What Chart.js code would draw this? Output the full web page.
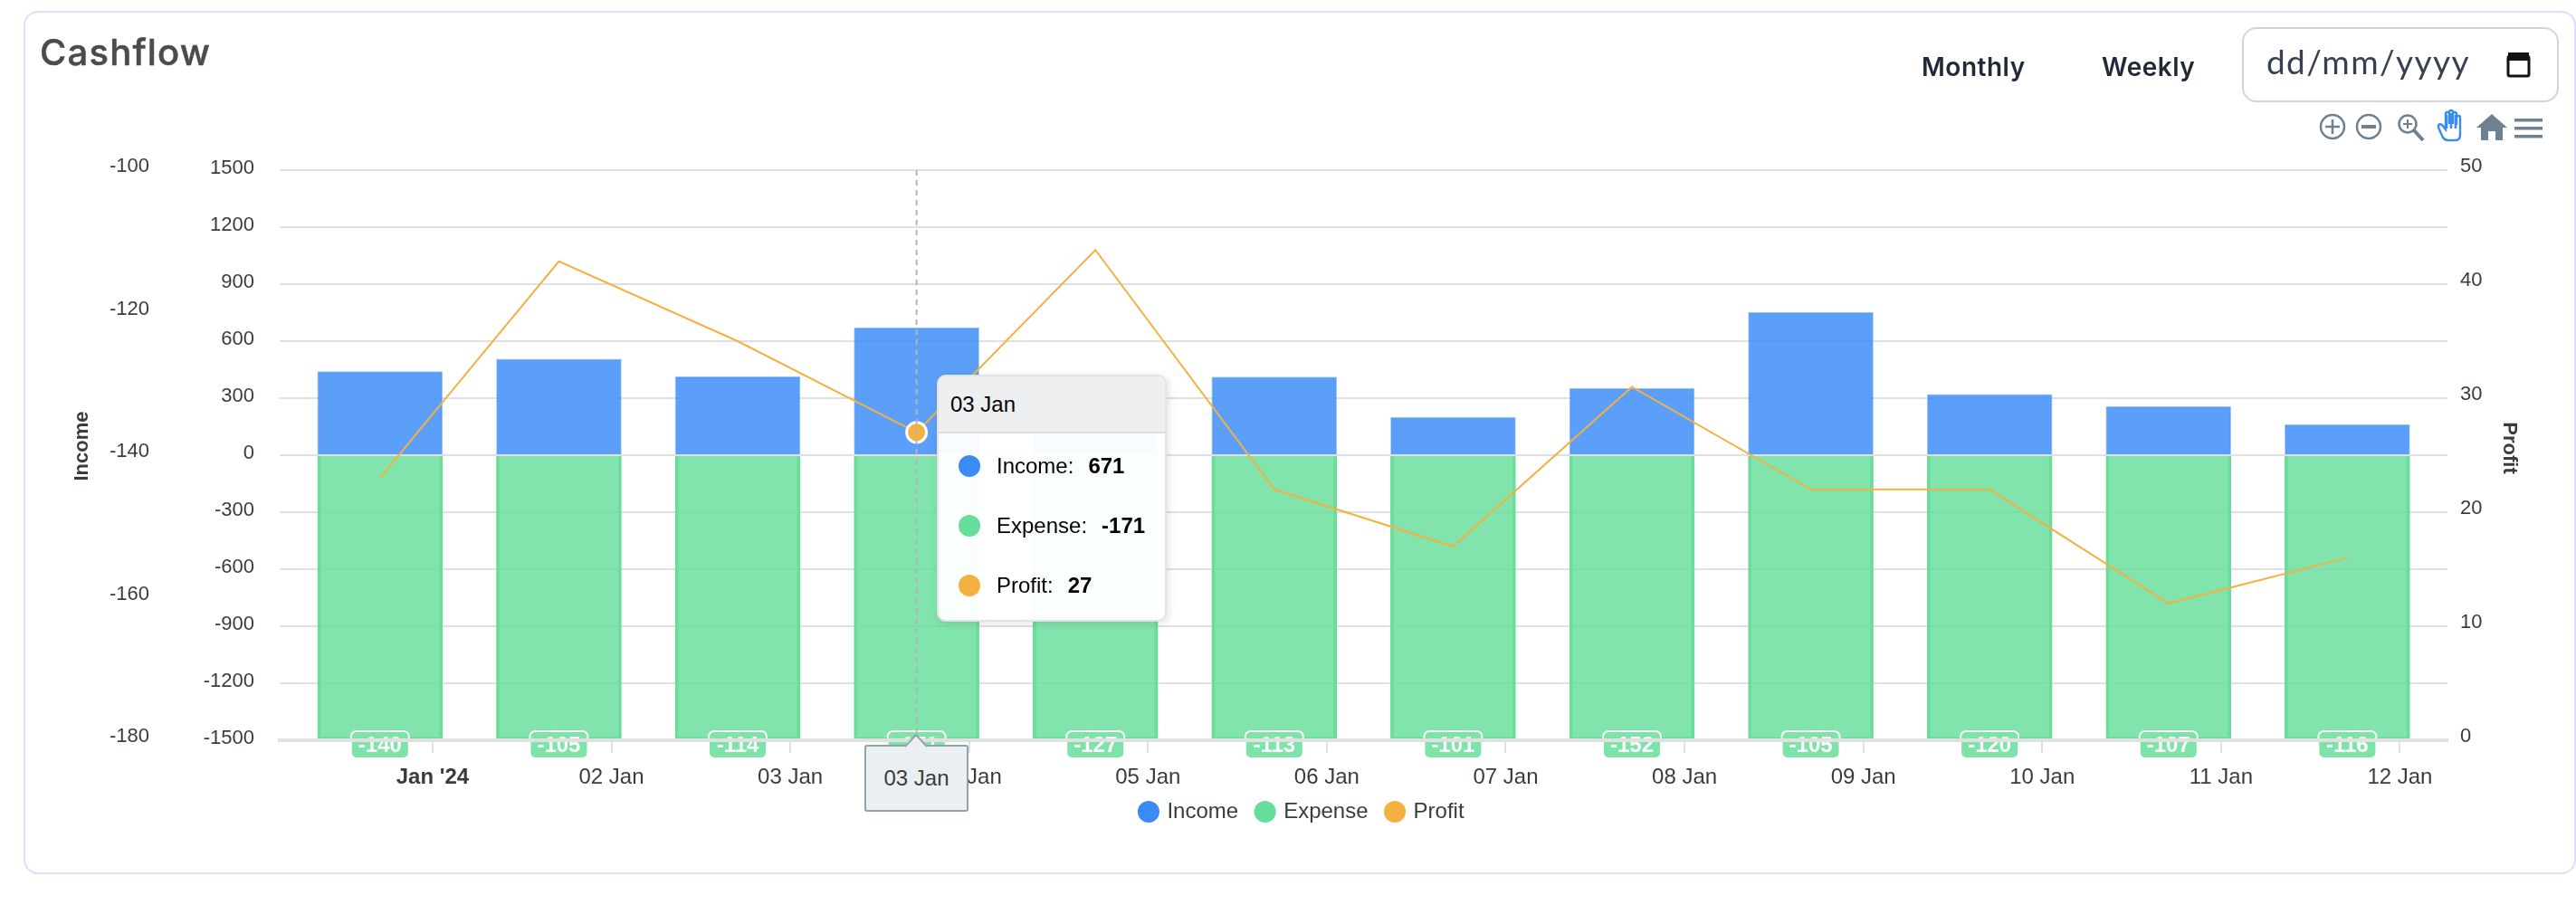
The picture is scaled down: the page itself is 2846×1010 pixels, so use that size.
<!DOCTYPE html>
<html>
<head>
<meta charset="utf-8">
<title>Cashflow</title>
<script src="https://cdn.jsdelivr.net/npm/chart.js@4/dist/chart.umd.min.js"></script>
<style>
  html, body { margin: 0; padding: 0; background: #fff; width: 2846px; height: 1010px; overflow: hidden; font-family: "Liberation Sans", Arial, sans-serif; }
  #card { position: absolute; left: 26px; top: 12px; width: 2816px; height: 950px; border: 2px solid #e6d9fb; border-radius: 16px; }
  #cashflow { position: absolute; left: 0; top: 0; }
  .abs { position: absolute; }
  #title { left: 44px; top: 33px; font: 500 40px "Inter", sans-serif; color: #4b4b4b; letter-spacing: 1.2px; -webkit-text-stroke: 0.5px #4b4b4b; }
  .period { top: 56px; font: 600 28px "Inter", sans-serif; color: #1f2937; line-height: 36px; letter-spacing: 0.5px; }
  #dateBox { left: 2477px; top: 30px; width: 346px; height: 79px; border: 2px solid #d1d5db; border-radius: 16px; }
  #dateText { left: 2504px; top: 46px; font: 400 37px "Lato", sans-serif; color: #374151; letter-spacing: 1.4px; line-height: 44px; }
  #tip { left: 1035px; top: 414px; width: 250px; height: 269px; border: 2px solid #e3e3e3; border-radius: 10px; background: rgba(255,255,255,.96); box-shadow: 2px 2px 8px rgba(0,0,0,.12); font-size: 24px; color: #000; overflow: hidden; }
  #tipTitle { background: #eeeff1; border-bottom: 2px solid #ddd; height: 61px; line-height: 61px; padding-left: 13px; }
  .row { position: absolute; left: 0; height: 40px; line-height: 40px; white-space: pre; }
  .row i { position: absolute; left: 22px; top: 8px; width: 24px; height: 24px; border-radius: 50%; }
  .row span { position: absolute; left: 64px; }
  .row b { font-weight: 700; margin-left: 16px; }
  #xTip { left: 955px; top: 823px; width: 111px; height: 70px; border: 2px solid #90a4ae; border-radius: 3px; background: #eceff1; color: #373d3f; font-size: 24px; line-height: 70px; text-align: center; }
</style>
</head>
<body>
<div id="card"></div>
<canvas id="cashflow" width="2846" height="1010"></canvas>

<div class="abs" id="title">Cashflow</div>
<div class="abs period" style="left:2123px">Monthly</div>
<div class="abs period" style="left:2322px">Weekly</div>
<div class="abs" id="dateBox"></div>
<div class="abs" id="dateText">dd/mm/yyyy</div>
<svg class="abs" style="left:0;top:0" width="2846" height="200" fill="none">
  <g stroke="#111" stroke-width="3"><rect x="2771" y="62" width="23" height="22" rx="2"/></g>
  <path d="M2771 58h23v9h-23z" fill="#111"/>
  <g stroke="#6e8192" stroke-width="2.5">
    <circle cx="2577" cy="140" r="13"/><path d="M2577 132v16M2569 140h16"/>
    <circle cx="2617" cy="140" r="13"/><path d="M2609 140h16" stroke-width="4"/>
    <circle cx="2660" cy="137" r="9.5"/><path d="M2660 132v10M2655 137h10" stroke-width="2"/><path d="M2667 144l10 11" stroke-width="4"/>
  </g>
  <path d="M2694 141l5 11q2 3 6 3h8q5 0 5-6v-19q0-2-2-2t-2 2v8v-12q0-2-2-2t-2 2v11v-13q0-2-2-2t-2 2v13v-11q0-2-2-2t-2 2v17l-4-5q-3-2-4 1z" stroke="#3b8bf7" stroke-width="2.4" fill="#fff"/>
  <path d="M2703 127v15M2708 125v17M2713 127v15" stroke="#3b8bf7" stroke-width="2.6"/>
  <path d="M2753 126l17 15h-5v14h-8v-10h-8v10h-8v-14h-5z" fill="#6e8192"/>
  <path d="M2778 131h31v3.5h-31zM2778 140h31v3.5h-31zM2778 149h31v3.5h-31z" fill="#6e8192"/>
</svg>

<div class="abs" id="xTip"></div>
<svg class="abs" style="left:1000px;top:811px" width="26" height="16"><path d="M0 14L12 1 24 14" fill="#eceff1" stroke="#90a4ae" stroke-width="2"/><path d="M2 16h20v-3H2z" fill="#eceff1"/></svg>
<div class="abs" id="tip"><div id="tipTitle"></div></div>

<script>
// each bar sits one slot left of its date tick, so the fourth bar reads 03 Jan
const dayLabels = ['31 Dec', '01 Jan', '02 Jan', '03 Jan', '04 Jan', '05 Jan', '06 Jan', '07 Jan', '08 Jan', '09 Jan', '10 Jan', '11 Jan'];
const xTickLabels = ["Jan '24", '02 Jan', '03 Jan', '04 Jan', '05 Jan', '06 Jan', '07 Jan', '08 Jan', '09 Jan', '10 Jan', '11 Jan', '12 Jan'];
const income = [440, 506, 414, 671, 380, 412, 200, 352, 752, 320, 257, 162];
const expense = [-140, -105, -114, -171, -127, -113, -101, -152, -105, -120, -107, -116];
const profit = [23, 42, 35, 27, 43, 22, 17, 31, 22, 22, 12, 16];
// every green bar runs down to the bottom of the income axis, whatever its label says
const expenseBarEnds = [-1500, -1500, -1500, -1500, -1500, -1500, -1500, -1500, -1500, -1500, -1500, -1500];
const activeDay = 3;

const blue = '#3b8bf7', green = '#66de9b', amber = '#f4b142';
const inkColor = '#373d3f', gridColor = '#e0e0e0';

const tickFont = { family: 'Liberation Sans', size: 22 };
const legendOrder = ['Income', 'Expense', 'Profit'];

const points = values => values.map((v, i) => ({ x: i, y: v }));

function axisTitle(ctx, text, x, y, angle) {
    ctx.save();
    ctx.translate(x, y);
    ctx.rotate(angle);
    ctx.font = 'bold 22px "Liberation Sans"';
    ctx.fillStyle = inkColor;
    ctx.textAlign = 'center';
    ctx.textBaseline = 'middle';
    ctx.fillText(text, 0, 0);
    ctx.restore();
}

// value badges, crosshair and the two axis titles
const overlays = {
    id: 'overlays',
    beforeDraw(chart) {
        chart.scales.x.bottom += 16; // the legend row sits tight, don't let it clip the tick labels
    },
    afterDatasetsDraw(chart) {
        const { ctx, scales } = chart;
        const base = scales.y.getPixelForValue(-1500);
        ctx.save();
        expense.forEach((v, i) => {
            const cx = scales.x.getPixelForValue(i);
            ctx.beginPath();
            ctx.roundRect(cx - 32, base - 10, 64, 30, 6);
            ctx.fillStyle = '#7ee3a8';
            ctx.fill();
            ctx.strokeStyle = '#fff';
            ctx.lineWidth = 2;
            ctx.stroke();
            ctx.fillStyle = '#fff';
            ctx.font = 'bold 24px "Liberation Sans"';
            ctx.textAlign = 'center';
            ctx.textBaseline = 'middle';
            ctx.fillText(String(v), cx, base + 6);
        });
        const hx = scales.x.getPixelForValue(activeDay);
        ctx.beginPath();
        ctx.setLineDash([6, 5]);
        ctx.moveTo(hx, chart.chartArea.top);
        ctx.lineTo(hx, chart.chartArea.bottom);
        ctx.strokeStyle = '#b0b5b8';
        ctx.lineWidth = 2;
        ctx.stroke();
        ctx.restore();
        axisTitle(ctx, 'Income', 91, 493, -Math.PI / 2);
        axisTitle(ctx, 'Profit', 2772, 495, Math.PI / 2);
    }
};

new Chart(document.getElementById('cashflow'), {
    type: 'bar',
    plugins: [overlays],
    data: {
        datasets: [
            {
                type: 'line', label: 'Profit', yAxisID: 'yProfit', order: 0,
                data: points(profit),
                borderColor: amber, backgroundColor: amber, borderWidth: 2, tension: 0,
                pointRadius: ctx => ctx.dataIndex === activeDay ? 11 : 0,
                pointBackgroundColor: amber, pointBorderColor: '#fff', pointBorderWidth: 3
            },
            {
                label: 'Expense', yAxisID: 'y', order: 1, grouped: false,
                data: points(expenseBarEnds),
                backgroundColor: 'rgba(102,222,155,.83)', borderColor: '#6bdc9a', borderWidth: 3, barThickness: 138
            },
            {
                label: 'Income', yAxisID: 'y', order: 2, grouped: false,
                data: points(income),
                backgroundColor: 'rgba(59,139,247,.83)', borderColor: 'rgba(120,170,250,.6)', borderWidth: 1, barThickness: 138
            }
        ]
    },
    options: {
        responsive: false,
        animation: false,
        devicePixelRatio: 1,
        events: [],
        layout: { autoPadding: false, padding: { left: 70, right: 38, top: 188, bottom: 91 } },
        plugins: {
            tooltip: { enabled: false },
            legend: {
                position: 'bottom',
                labels: {
                    usePointStyle: true, pointStyle: 'circle', boxHeight: 17, boxWidth: 17, padding: 21,
                    color: inkColor, font: { family: 'Liberation Sans', size: 24 },
                    sort: (a, b) => legendOrder.indexOf(a.text) - legendOrder.indexOf(b.text),
                    generateLabels(chart) {
                        const colors = { Income: blue, Expense: green, Profit: amber };
                        return chart.data.datasets.map((d, i) => ({
                            text: d.label, fillStyle: colors[d.label], strokeStyle: colors[d.label],
                            lineWidth: 0, pointStyle: 'circle', datasetIndex: i, fontColor: inkColor
                        }));
                    }
                }
            }
        },
        scales: {
            x: {
                type: 'linear', min: -0.561, max: 11.56, offset: false,
                afterBuildTicks: scale => { scale.ticks = xTickLabels.map((_, i) => ({ value: i + 0.294 })); },
                afterFit: scale => { scale.height = 46; },
                grid: { offset: false, drawOnChartArea: false, drawTicks: true, tickLength: 14, color: gridColor, lineWidth: 2, z: 1 },
                border: { display: true, color: gridColor, width: 4, z: 1 },
                ticks: {
                    autoSkip: false, maxRotation: 0, padding: 13, color: inkColor, z: 1,
                    font: ctx => ({ family: 'Liberation Sans', size: 24, weight: ctx.index === 0 ? 'bold' : 'normal' }),
                    callback: (value, index) => xTickLabels[index]
                }
            },
            y: {
                position: 'left', min: -1500, max: 1500, weight: 1,
                afterFit: scale => { scale.width = 109; },
                grid: { color: gridColor, lineWidth: 2, drawTicks: false },
                border: { display: false },
                ticks: { stepSize: 300, padding: 28, color: inkColor, font: tickFont, labelOffset: -2, callback: v => String(v) }
            },
            yExpense: {
                position: 'left', min: -180, max: -100, weight: 2,
                afterFit: scale => { scale.width = 130; },
                grid: { display: false, drawTicks: false },
                border: { display: false },
                ticks: { stepSize: 20, padding: 35, color: inkColor, font: tickFont, labelOffset: -4, callback: v => String(v) }
            },
            yProfit: {
                position: 'right', min: 0, max: 50,
                afterFit: scale => { scale.width = 104; },
                grid: { display: false, drawTicks: false },
                border: { display: false },
                ticks: { stepSize: 10, padding: 14, color: inkColor, font: tickFont, labelOffset: -4 }
            }
        }
    }
});

// hover tooltip frozen on the active day
document.getElementById('xTip').textContent = dayLabels[activeDay];
document.getElementById('tipTitle').textContent = dayLabels[activeDay];
const tipRows = [['Income', income, blue], ['Expense', expense, green], ['Profit', profit, amber]];
tipRows.forEach(([name, values, color], i) => {
    const row = document.createElement('div');
    row.className = 'row';
    row.style.top = (79 + i * 66) + 'px';
    row.innerHTML = `<i style="background:${color}"></i><span>${name}:<b>${values[activeDay]}</b></span>`;
    document.getElementById('tip').appendChild(row);
});
</script>
</body>
</html>
